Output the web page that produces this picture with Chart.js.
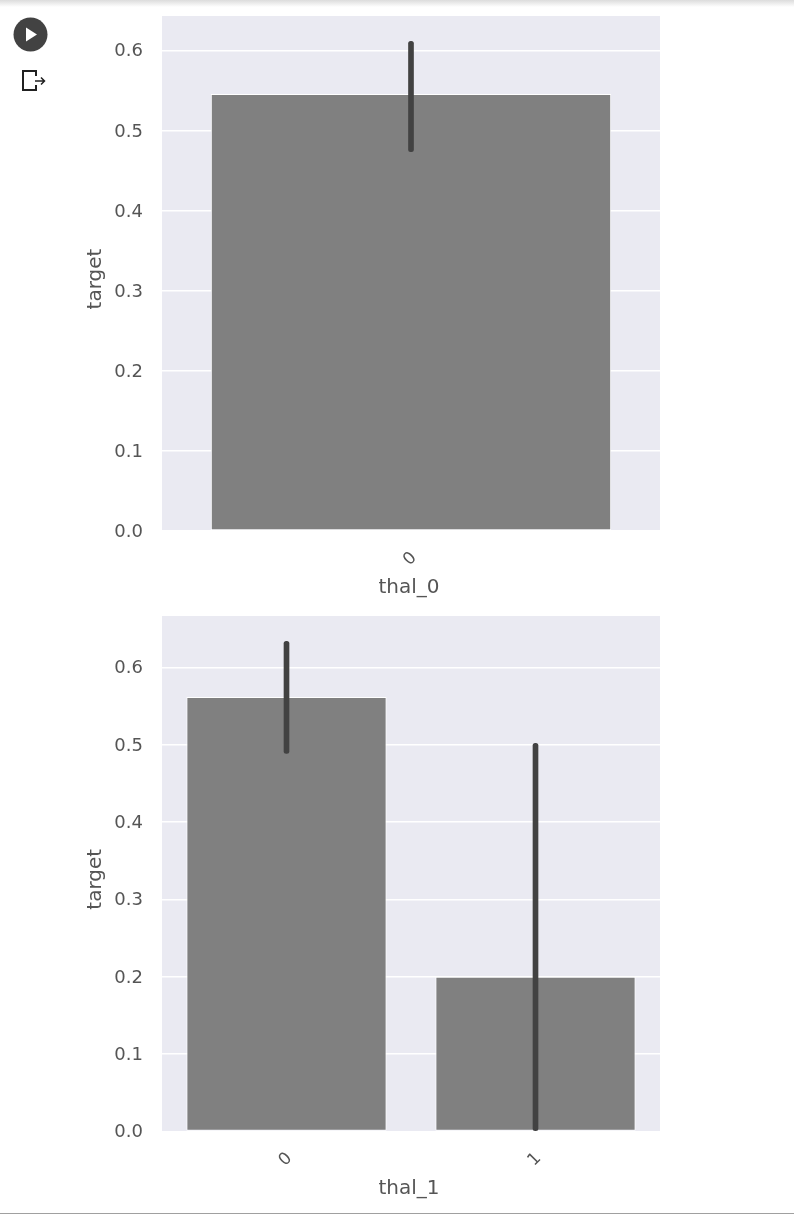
<!DOCTYPE html>
<html>
<head>
<meta charset="utf-8">
<script src="https://cdn.jsdelivr.net/npm/chart.js@4/dist/chart.umd.min.js"></script>
<style>
  html, body { margin: 0; padding: 0; background: #fff; }
  body { width: 794px; height: 1214px; position: relative; overflow: hidden; }
  .topbar { position: absolute; left: 0; top: 0; width: 794px; height: 7px; background: linear-gradient(#dcdcdc, #fff); }
  .bottomline { position: absolute; left: 0; top: 1213px; width: 794px; height: 1px; background: #a0a0a0; }
  .icon { position: absolute; }
  canvas { position: absolute; left: 0; }
</style>
</head>
<body>
<div class="topbar"></div>
<svg class="icon" style="left:13px;top:17px" width="35" height="35" viewBox="0 0 35 35">
  <circle cx="17.5" cy="17.5" r="17" fill="#424242"/>
  <path d="M13 10.5 L24 17.5 L13 24.5 Z" fill="#fff"/>
</svg>
<svg class="icon" style="left:20px;top:69px" width="27" height="24" viewBox="0 0 27 24">
  <path d="M16 7 V2 H3 V21 H16 V16" fill="none" stroke="#212121" stroke-width="2"/>
  <path d="M15 12 H24 M21 8.5 L24.5 12 L21 15.5" fill="none" stroke="#212121" stroke-width="1.5"/>
</svg>
<canvas id="chart0" style="top:0" width="794" height="600"></canvas>
<canvas id="chart1" style="top:600px" width="794" height="600"></canvas>
<div class="bottomline"></div>

<script>
const thal0Labels = ['0'];
const thal0Means = [0.546];
const thal0Errors = [[0.474, 0.612]];
const thal0Max = 0.6435;

const thal1Labels = ['0', '1'];
const thal1Means = [0.562, 0.2];
const thal1Errors = [[0.489, 0.634], [0.0, 0.502]];
const thal1Max = 0.6667;

const textColor = '#555555';
const fontFamily = "'DejaVu Sans', sans-serif";

// seaborn darkgrid background
const plotBackground = {
    id: 'plotBackground',
    beforeDraw(chart) {
        const { ctx, chartArea } = chart;
        ctx.save();
        ctx.fillStyle = '#eaeaf2';
        ctx.fillRect(chartArea.left, chartArea.top, chartArea.width, chartArea.height);
        ctx.restore();
    },
};

// scale titles can't be nudged off centre, so they are drawn here
const axisNames = {
    id: 'axisNames',
    afterDraw(chart, args, opts) {
        const { ctx, chartArea } = chart;
        ctx.save();
        ctx.fillStyle = textColor;
        ctx.font = `20px ${fontFamily}`;
        ctx.textAlign = 'center';
        ctx.textBaseline = 'middle';
        ctx.fillText(opts.x, (chartArea.left + chartArea.right) / 2 - 2, chartArea.bottom + 57);
        ctx.translate(95.5, (chartArea.top + chartArea.bottom) / 2 + 5.5);
        ctx.rotate(-Math.PI / 2);
        ctx.fillText(opts.y, 0, 0);
        ctx.restore();
    },
};

// stops chart.js adding room for half a tick label around the plot
const clearPadding = (scale) => {
    scale.paddingTop = 0;
    scale.paddingBottom = 0;
    scale.paddingLeft = 0;
    scale.paddingRight = 0;
};

const makeChart = (id, labels, means, errors, yMax, xName, xHeight) => {
    new Chart(document.getElementById(id), {
        type: 'bar',
        plugins: [plotBackground, axisNames],
        data: {
            labels: labels,
            datasets: [
                {
                    data: errors,
                    grouped: false,
                    order: 0,
                    backgroundColor: '#424242',
                    borderWidth: 0,
                    borderRadius: 2.5,
                    borderSkipped: false,
                    barThickness: 5,
                },
                {
                    data: means,
                    grouped: false,
                    order: 1,
                    backgroundColor: '#808080',
                    borderColor: '#ffffff',
                    borderWidth: 1,
                    borderSkipped: false,
                    barPercentage: 0.804,
                    categoryPercentage: 1,
                },
            ],
        },
        options: {
            responsive: false,
            animation: false,
            layout: { padding: { left: 72, right: 134, top: 16, bottom: 0 } },
            plugins: {
                legend: { display: false },
                tooltip: { enabled: false },
                axisNames: { x: xName, y: 'target' },
            },
            scales: {
                x: {
                    grid: { display: false },
                    border: { display: false },
                    afterFit(scale) {
                        scale.height = xHeight;
                        clearPadding(scale);
                    },
                    ticks: {
                        color: textColor,
                        font: { family: fontFamily, size: 17 },
                        minRotation: 45,
                        maxRotation: 45,
                        padding: 9,
                        labelOffset: 3,
                    },
                },
                y: {
                    min: 0,
                    max: yMax,
                    grid: { color: '#ffffff', lineWidth: 1.5, drawTicks: false },
                    border: { display: false },
                    afterFit(scale) {
                        scale.width = 90;
                        clearPadding(scale);
                    },
                    ticks: {
                        color: textColor,
                        font: { family: fontFamily, size: 18 },
                        stepSize: 0.1,
                        includeBounds: false,
                        padding: 19,
                        labelOffset: 1,
                        callback: (value) => value.toFixed(1),
                    },
                },
            },
        },
    });
};

makeChart('chart0', thal0Labels, thal0Means, thal0Errors, thal0Max, 'thal_0', 69);
makeChart('chart1', thal1Labels, thal1Means, thal1Errors, thal1Max, 'thal_1', 68.5);
</script>
</body>
</html>
